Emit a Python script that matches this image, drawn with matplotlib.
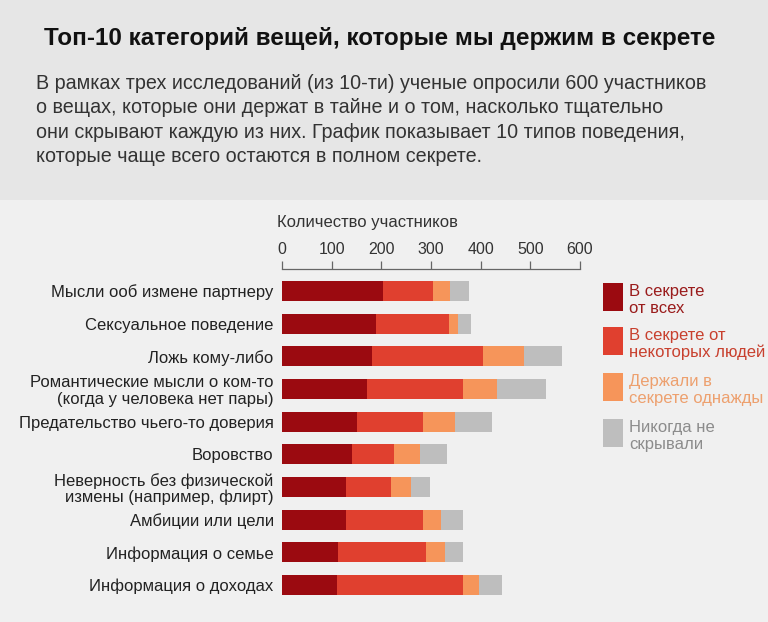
import numpy as np
import matplotlib
matplotlib.use('Agg')
import matplotlib.pyplot as plt
from matplotlib.patches import Rectangle

categories = [
    'Мысли ооб измене партнеру',
    'Сексуальное поведение',
    'Ложь кому-либо',
    'Романтические мысли о ком-то\n(когда у человека нет пары)',
    'Предательство чьего-то доверия',
    'Воровство',
    'Неверность без физической\nизмены (например, флирт)',
    'Амбиции или цели',
    'Информация о семье',
    'Информация о доходах',
]
secret_all = [203, 190, 182, 172, 150, 140, 129, 128, 113, 110]
secret_some = [101, 147, 222, 192, 134, 86, 90, 156, 176, 254]
secret_once = [34, 17, 84, 68, 65, 52, 40, 36, 40, 33]
never = [39, 27, 76, 99, 74, 54, 39, 45, 36, 45]

series = [secret_all, secret_some, secret_once, never]
series_names = ['В секрете\nот всех', 'В секрете от\nнекоторых людей',
                'Держали в\nсекрете однажды', 'Никогда не\nскрывали']
colors = ['#9b0a10', '#e0402f', '#f6955a', '#bebebe']
text_colors = ['#9a1c1c', '#c8402e', '#eda06e', '#8c8c8c']
xticks = [0, 100, 200, 300, 400, 500, 600]

W, H = 768, 622
fig = plt.figure(figsize=(W / 100, H / 100), dpi=100, facecolor='#f0f0f0')

def fx(px):
    return px / W

def fy(py):
    return 1 - py / H

# header band
fig.add_artist(Rectangle((0, fy(200)), 1, 200 / H, transform=fig.transFigure,
                         facecolor='#e6e6e6', edgecolor='none', zorder=0))

font = 'Liberation Sans'
fig.text(fx(380), fy(38), 'Топ-10 категорий вещей, которые мы держим в секрете',
         ha='center', va='center', fontsize=17.5, fontweight='bold',
         family=font, color='#111111')
subtitle = ('В рамках трех исследований (из 10-ти) ученые опросили 600 участников\n'
            'о вещах, которые они держат в тайне и о том, насколько тщательно\n'
            'они скрывают каждую из них. График показывает 10 типов поведения,\n'
            'которые чаще всего остаются в полном секрете.')
fig.text(fx(36), fy(74), subtitle, ha='left', va='top', fontsize=14.2,
         family=font, color='#333333', linespacing=1.36)

ax = fig.add_axes([fx(282), fy(603), 298 / W, (603 - 269) / H])
ax.set_facecolor('none')
y = np.arange(len(categories))
left = np.zeros(len(categories))
for vals, c in zip(series, colors):
    ax.barh(y, vals, left=left, height=0.61, color=c, edgecolor='none')
    left += np.array(vals)

ax.set_xlim(0, 600)
ax.set_ylim(9.55, -0.67)
ax.set_xticks(xticks)
ax.xaxis.tick_top()
ax.tick_params(axis='x', direction='out', length=6, width=0.9, color='#666666',
               pad=3, labelsize=11.5, labelcolor='#333333')
ax.set_yticks(y)
ax.set_yticklabels(categories)
ax.tick_params(axis='y', length=0, pad=6, labelsize=12, labelcolor='#222222')
for lbl in ax.get_yticklabels():
    lbl.set_linespacing(1.1)
    lbl.set_family(font)
for lbl in ax.get_xticklabels():
    lbl.set_family(font)
for s in ['left', 'right', 'bottom']:
    ax.spines[s].set_visible(False)
ax.spines['top'].set_color('#666666')
ax.spines['top'].set_linewidth(0.9)

fig.text(fx(277), fy(222), 'Количество участников', ha='left', va='center',
         fontsize=12, family=font, color='#333333')

# legend
sq_tops = [283, 327, 373, 419]
for top, name, c, tc in zip(sq_tops, series_names, colors, text_colors):
    fig.add_artist(Rectangle((fx(603), fy(top + 28)), 20 / W, 28 / H,
                             transform=fig.transFigure, facecolor=c, edgecolor='none'))
    fig.text(fx(629), fy(top + 1), name, ha='left', va='top', fontsize=12,
             family=font, color=tc, linespacing=1.15)

fig.savefig('out.png', dpi=100, facecolor=fig.get_facecolor())
